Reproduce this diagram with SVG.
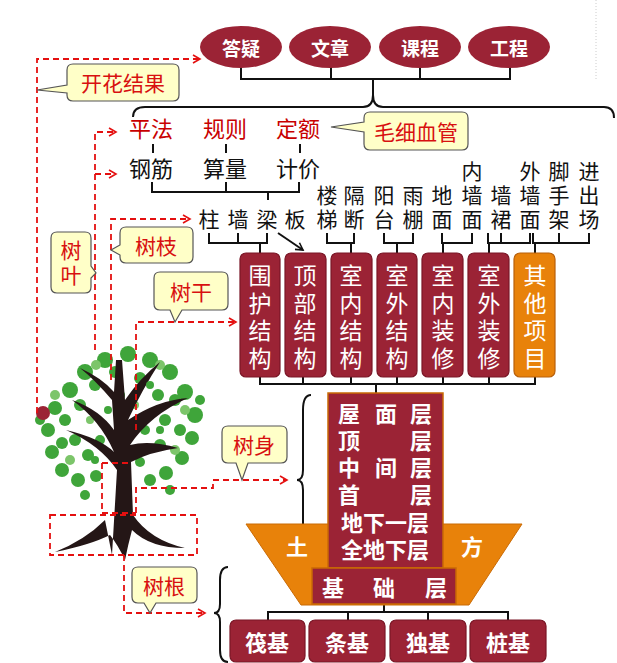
<svg xmlns="http://www.w3.org/2000/svg" width="617" height="663" viewBox="0 0 617 663">
<defs>
<marker id="ar" markerWidth="10" markerHeight="10" refX="8" refY="5" orient="auto" markerUnits="userSpaceOnUse"><path d="M1,1 L8,5 L1,9" fill="none" stroke="#e41010" stroke-width="1.6"/></marker>
<marker id="ab" markerWidth="10" markerHeight="10" refX="8" refY="5" orient="auto" markerUnits="userSpaceOnUse"><path d="M1,1 L8,5 L1,9" fill="none" stroke="#111" stroke-width="1.6"/></marker>
</defs>
<style>
text{font-family:"Noto Sans CJK SC","Noto Sans",sans-serif;text-anchor:middle;dominant-baseline:central}
.ell{fill:#9b2335}
.w{fill:#fff;font-weight:bold}
.box{fill:#9b2335;stroke:#7a1626;stroke-width:1.2}
.org{fill:#e8820a;stroke:#b8600a;stroke-width:1.2}
.ln{fill:none;stroke:#111;stroke-width:2}
.dash{fill:none;stroke:#e41010;stroke-width:1.8;stroke-dasharray:6,4}
.call{fill:#ffffc8;stroke:#555;stroke-width:1.2}
.red{fill:#d81010;font-size:21px}
.rd{fill:#c80000;font-size:22px}
.blk{fill:#111;font-size:22px}
.v{fill:#111;font-size:21px}
.bt{fill:#fff;font-size:23px}
.st{fill:#fff;font-size:22px;font-weight:bold}
.leaf{fill:#3fa53a}
.lf2{fill:#7cc56a}
</style>
<line x1="596" y1="0" x2="596" y2="80" stroke="#ccc" stroke-dasharray="1,2"/>
<g id="connectors">
<path class="ln" d="M241,67V79H510V67M331,67V79M420,67V79M373,79V95"/>
<path class="ln" d="M133,117Q133,107 145,107H363Q373,107 373,95Q373,107 383,107H604Q614,107 614,118"/>
<path class="ln" d="M153,144V153M226,144V153M300,144V153"/>
<path class="ln" d="M152,182V192H299V182M226,192V182M268,192V200"/>
<path class="ln" d="M209,233V243H267V233M238,243V233M260,243V253"/>
<path class="ln" d="M278,233L303,250" marker-end="url(#ab)"/>
<path class="ln" d="M327,233V243H354V233M351,243V253"/>
<path class="ln" d="M384,233V243H413V233M397,243V253"/>
<path class="ln" d="M442,233V243H472V233M443,243V253"/>
<path class="ln" d="M488,233V243H530V233M501,243V233M489,243V253"/>
<path class="ln" d="M533,233V243H589V233M559,243V233M535,243V253"/>
<path class="ln" d="M260,377V384H535V377M303,384V377M351,384V377M397,384V377M443,384V377M489,384V377M376,384V393"/>
<path class="ln" d="M384,604V612M268,620V612H508V620M348,612V620M428,612V620"/>
<path class="ln" d="M311,395Q303,395 303,410V470Q303,480 297,480Q303,480 303,490V553Q303,567 311,567"/>
<path class="ln" d="M228,567Q220,567 220,580V604Q220,613 214,613Q220,613 220,622V650Q220,662 228,662"/>
</g>
<g id="tree">
<g class="leaf">
<circle cx="70" cy="390" r="8"/><circle cx="85" cy="372" r="8"/><circle cx="105" cy="360" r="8"/><circle cx="128" cy="354" r="8"/><circle cx="150" cy="360" r="8"/><circle cx="170" cy="372" r="8"/><circle cx="185" cy="392" r="8"/><circle cx="195" cy="415" r="8"/><circle cx="192" cy="438" r="7"/><circle cx="182" cy="458" r="7"/><circle cx="166" cy="473" r="7"/><circle cx="55" cy="408" r="7"/><circle cx="48" cy="430" r="7"/><circle cx="52" cy="452" r="7"/><circle cx="62" cy="470" r="7"/><circle cx="78" cy="480" r="7"/><circle cx="96" cy="476" r="6"/><circle cx="150" cy="480" r="6"/><circle cx="95" cy="385" r="6"/><circle cx="140" cy="378" r="6"/><circle cx="165" cy="420" r="6"/><circle cx="75" cy="440" r="6"/><circle cx="160" cy="445" r="6"/><circle cx="88" cy="455" r="6"/><circle cx="175" cy="400" r="6"/><circle cx="65" cy="420" r="6"/>
<circle cx="115" cy="372" r="6"/><circle cx="158" cy="395" r="6"/><circle cx="80" cy="405" r="6"/><circle cx="180" cy="430" r="6"/><circle cx="62" cy="443" r="6"/><circle cx="100" cy="440" r="5"/><circle cx="145" cy="430" r="5"/><circle cx="120" cy="395" r="5"/><circle cx="200" cy="400" r="5"/><circle cx="40" cy="420" r="5"/><circle cx="140" cy="462" r="5"/><circle cx="85" cy="495" r="5"/><circle cx="170" cy="490" r="5"/>
</g>
<g class="lf2">
<circle cx="96" cy="365" r="5"/><circle cx="160" cy="365" r="5"/><circle cx="185" cy="410" r="5"/><circle cx="55" cy="395" r="5"/><circle cx="70" cy="460" r="5"/><circle cx="175" cy="450" r="5"/><circle cx="135" cy="405" r="4"/><circle cx="90" cy="420" r="4"/>
</g>
<path d="M112,555 L117,470 Q100,445 66,430 Q100,438 114,452 Q100,420 72,400 Q100,410 114,430 L112,400 Q95,380 80,368 Q102,378 114,392 L116,360 L122,360 L125,400 Q140,378 160,362 Q142,390 128,420 Q158,400 188,398 Q150,415 130,445 Q150,440 178,448 Q150,452 131,462 L133,515 Q150,540 185,548 Q150,548 132,530 Q128,545 125,560 Q118,545 110,535 Q90,545 55,552 Q85,540 105,520 Z" fill="#241616"/>
<g class="leaf"><circle cx="108" cy="410" r="4"/><circle cx="150" cy="385" r="4"/><circle cx="95" cy="460" r="4"/><circle cx="160" cy="430" r="4"/></g>
<circle cx="43" cy="413" r="7" fill="#9b2335"/>
</g>
<g id="dashes">
<path class="dash" d="M37,413V59H200" marker-end="url(#ar)"/>
<path class="dash" d="M95,350V132H116" marker-end="url(#ar)"/>
<path class="dash" d="M95,174H116" marker-end="url(#ar)"/>
<path class="dash" d="M111,380V219H190" marker-end="url(#ar)"/>
<path class="dash" d="M136,430V322H236" marker-end="url(#ar)"/>
<path class="dash" d="M136,513V488H213V480H287" marker-end="url(#ar)"/>
<path class="dash" d="M102,463H132M102,463V513M102,513H136"/>
<rect class="dash" x="50" y="515" width="147" height="40"/>
<path class="dash" d="M124,555V613H205" marker-end="url(#ar)"/>
</g>
<g id="tops">
<ellipse class="ell" cx="241" cy="47" rx="41" ry="21"/><text class="w" x="241" y="47" font-size="19">答疑</text>
<ellipse class="ell" cx="330" cy="47" rx="41" ry="21"/><text class="w" x="330" y="47" font-size="19">文章</text>
<ellipse class="ell" cx="420" cy="47" rx="41" ry="21"/><text class="w" x="420" y="47" font-size="19">课程</text>
<ellipse class="ell" cx="509" cy="47" rx="41" ry="21"/><text class="w" x="509" y="47" font-size="19">工程</text>
</g>
<g id="callouts">
<path class="call" d="M73,64H173Q179,64 179,70V95Q179,101 173,101H73Q67,101 67,95V93L37,90L67,85V70Q67,64 73,64Z"/><text class="red" x="123" y="82">开花结果</text>
<path class="call" d="M370,112H462Q468,112 468,118V144Q468,150 462,150H370Q364,150 364,144V132L331,127L364,122V118Q364,112 370,112Z"/><text class="red" x="416" y="131">毛细血管</text>
<path class="call" d="M57,232H85Q91,232 91,238V266L96,273L91,278V287Q91,293 85,293H57Q51,293 51,287V238Q51,232 57,232Z"/><text class="red" x="71" y="249">树</text><text class="red" x="71" y="274">叶</text>
<path class="call" d="M126,227H187Q193,227 193,233V257Q193,263 187,263H126Q120,263 120,257V255L111,250L120,245V233Q120,227 126,227Z"/><text class="red" x="156" y="245">树枝</text>
<path class="call" d="M160,272H222Q228,272 228,278V304Q228,310 222,310H182L175,322L170,310H160Q154,310 154,304V278Q154,272 160,272Z"/><text class="red" x="191" y="291">树干</text>
<path class="call" d="M228,426H281Q287,426 287,432V457Q287,463 281,463H248L242,480L236,463H228Q222,463 222,457V432Q222,426 228,426Z"/><text class="red" x="254" y="444">树身</text>
<path class="call" d="M138,567H191Q197,567 197,573V597Q197,603 191,603H156L150,613L144,603H138Q132,603 132,597V573Q132,567 138,567Z"/><text class="red" x="164" y="585">树根</text>
</g>
<g id="labels">
<text class="rd" x="151" y="127">平法</text><text class="rd" x="225" y="127">规则</text><text class="rd" x="298" y="127">定额</text>
<text class="blk" x="151" y="167">钢筋</text><text class="blk" x="225" y="167">算量</text><text class="blk" x="298" y="167">计价</text>
<text class="v" x="209" y="218">柱</text><text class="v" x="238" y="218">墙</text><text class="v" x="267" y="218">梁</text><text class="v" x="295" y="218">板</text>
<text class="v" x="327" y="194">楼</text><text class="v" x="327" y="218">梯</text>
<text class="v" x="354" y="194">隔</text><text class="v" x="354" y="218">断</text>
<text class="v" x="384" y="194">阳</text><text class="v" x="384" y="218">台</text>
<text class="v" x="413" y="194">雨</text><text class="v" x="413" y="218">棚</text>
<text class="v" x="442" y="194">地</text><text class="v" x="442" y="218">面</text>
<text class="v" x="472" y="170">内</text><text class="v" x="472" y="194">墙</text><text class="v" x="472" y="218">面</text>
<text class="v" x="501" y="194">墙</text><text class="v" x="501" y="218">裙</text>
<text class="v" x="530" y="170">外</text><text class="v" x="530" y="194">墙</text><text class="v" x="530" y="218">面</text>
<text class="v" x="559" y="170">脚</text><text class="v" x="559" y="194">手</text><text class="v" x="559" y="218">架</text>
<text class="v" x="589" y="170">进</text><text class="v" x="589" y="194">出</text><text class="v" x="589" y="218">场</text>
</g>
<g id="cols">
<rect class="box" x="240" y="253" width="40" height="124" rx="6"/><text class="bt" x="260" y="274">围</text><text class="bt" x="260" y="302">护</text><text class="bt" x="260" y="329">结</text><text class="bt" x="260" y="357">构</text>
<rect class="box" x="285" y="253" width="41" height="124" rx="6"/><text class="bt" x="305" y="274">顶</text><text class="bt" x="305" y="302">部</text><text class="bt" x="305" y="329">结</text><text class="bt" x="305" y="357">构</text>
<rect class="box" x="331" y="253" width="41" height="124" rx="6"/><text class="bt" x="351" y="274">室</text><text class="bt" x="351" y="302">内</text><text class="bt" x="351" y="329">结</text><text class="bt" x="351" y="357">构</text>
<rect class="box" x="377" y="253" width="40" height="124" rx="6"/><text class="bt" x="397" y="274">室</text><text class="bt" x="397" y="302">外</text><text class="bt" x="397" y="329">结</text><text class="bt" x="397" y="357">构</text>
<rect class="box" x="422" y="253" width="41" height="124" rx="6"/><text class="bt" x="443" y="274">室</text><text class="bt" x="443" y="302">内</text><text class="bt" x="443" y="329">装</text><text class="bt" x="443" y="357">修</text>
<rect class="box" x="468" y="253" width="41" height="124" rx="6"/><text class="bt" x="489" y="274">室</text><text class="bt" x="489" y="302">外</text><text class="bt" x="489" y="329">装</text><text class="bt" x="489" y="357">修</text>
<rect class="org" x="514" y="253" width="41" height="124" rx="6"/><text class="bt" x="535" y="274">其</text><text class="bt" x="535" y="302">他</text><text class="bt" x="535" y="329">项</text><text class="bt" x="535" y="357">目</text>
</g>
<g id="building">
<path d="M246,524H522L469,605H301Z" fill="#e8820a" stroke="#c96a05"/>
<text class="st" x="297" y="545">土</text><text class="st" x="472" y="545">方</text>
<rect x="328" y="393" width="115" height="175" fill="#9b2335" stroke="#c96a05" stroke-width="1.5"/>
<text class="st" x="349" y="412">屋</text><text class="st" x="386" y="412">面</text><text class="st" x="421" y="412">层</text>
<text class="st" x="349" y="439">顶</text><text class="st" x="421" y="439">层</text>
<text class="st" x="349" y="466">中</text><text class="st" x="386" y="466">间</text><text class="st" x="421" y="466">层</text>
<text class="st" x="349" y="493">首</text><text class="st" x="421" y="493">层</text>
<text class="st" x="385" y="521" font-size="23">地下一层</text>
<text class="st" x="385" y="548" font-size="23">全地下层</text>
<rect x="312" y="568" width="144" height="36" fill="#9b2335" stroke="#c96a05" stroke-width="1.5"/>
<text class="st" x="333" y="586">基</text><text class="st" x="384" y="586">础</text><text class="st" x="436" y="586">层</text>
</g>
<g id="found">
<rect class="box" x="230" y="620" width="75" height="42" rx="6" stroke="#c96a05"/><text class="st" x="267" y="641">筏基</text>
<rect class="box" x="309" y="620" width="76" height="42" rx="6" stroke="#c96a05"/><text class="st" x="347" y="641">条基</text>
<rect class="box" x="390" y="620" width="76" height="42" rx="6" stroke="#c96a05"/><text class="st" x="428" y="641">独基</text>
<rect class="box" x="470" y="620" width="76" height="42" rx="6" stroke="#c96a05"/><text class="st" x="508" y="641">桩基</text>
</g>
</svg>
